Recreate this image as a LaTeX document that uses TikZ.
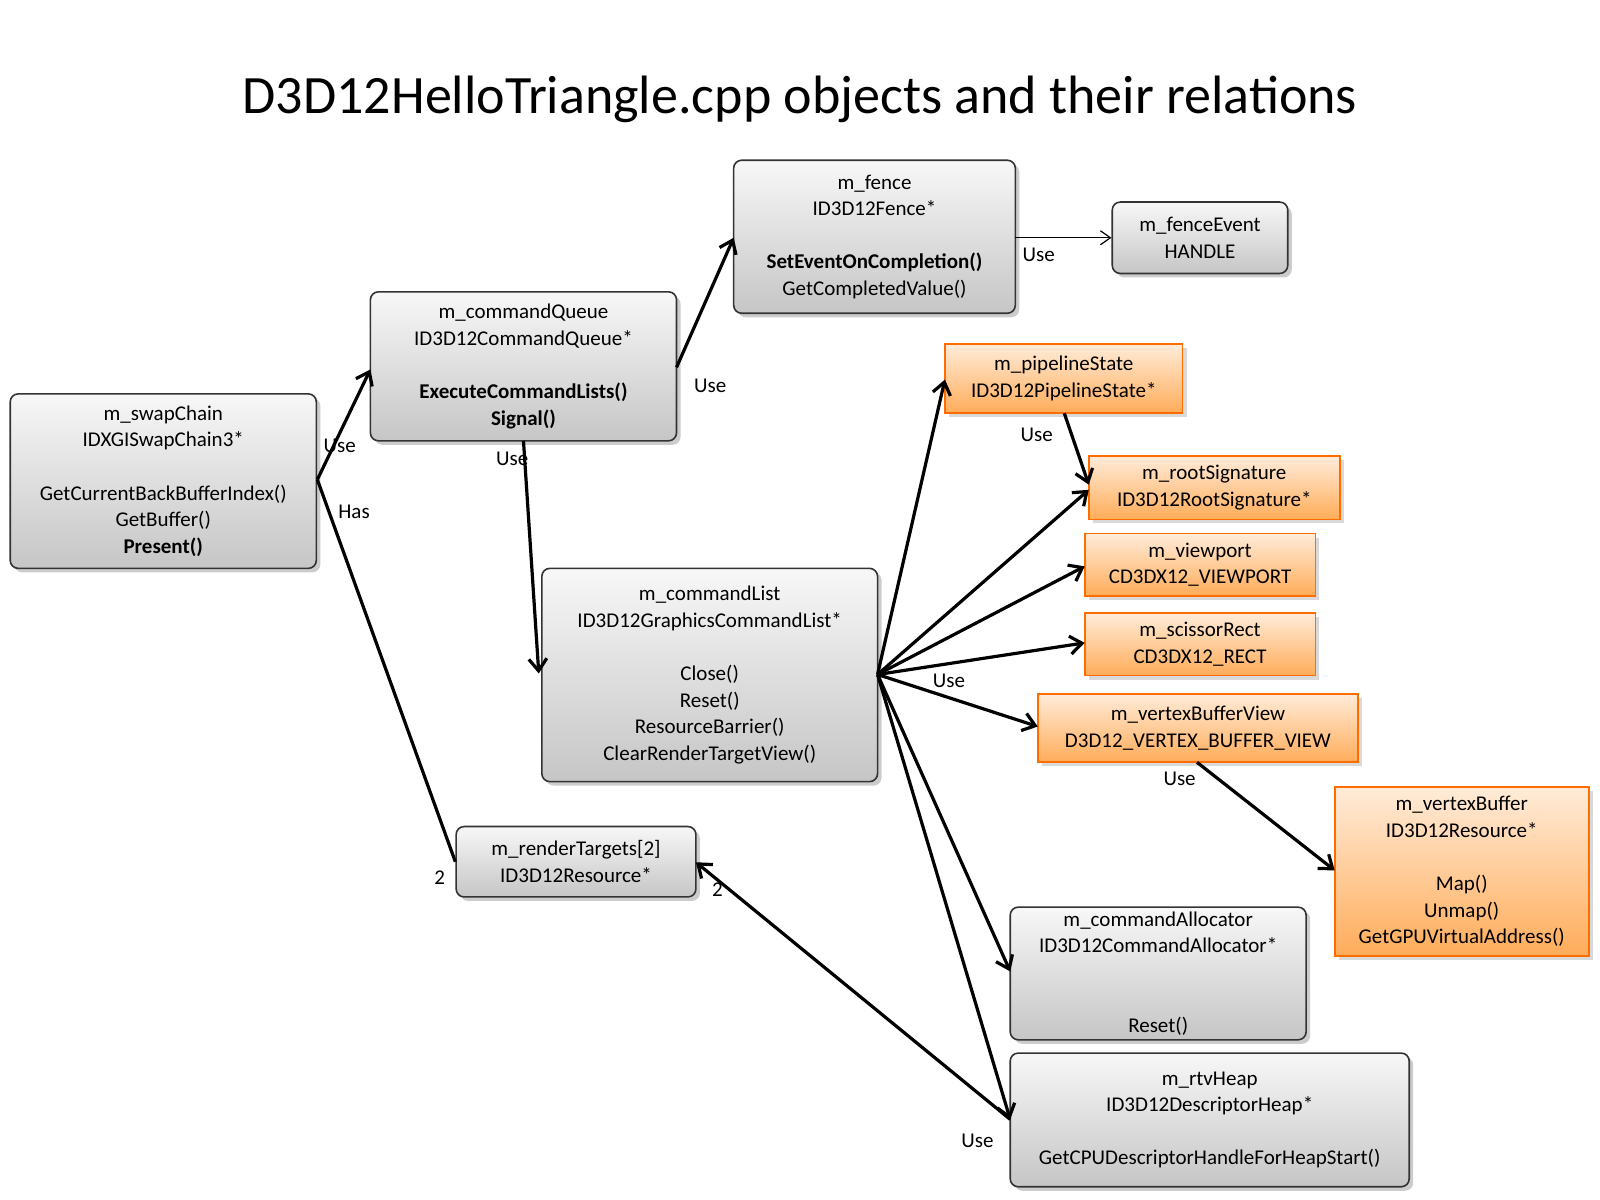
\documentclass[tikz,border=0pt]{standalone}
\usepackage{fontspec}
\setmainfont{Carlito}
\usetikzlibrary{arrows.meta,shadows}
\newcommand{\bx}[7]{\node[#6, minimum width={(#4-#2)*0.51pt}, minimum height={(#5-#3)*0.51pt}] (#1) at ({(#2+#4)/2},{(#3+#5)/2}) {#7};}
\tikzset{
 gbox/.style={draw=black!80, line width=0.8pt, rounded corners=4pt, top color=gray!6, bottom color=gray!45, drop shadow={shadow xshift=2pt,shadow yshift=-2pt,opacity=0.4}, align=center, inner sep=2pt, font=\fontsize{10.5}{13.3}\selectfont},
 obox/.style={draw=orange!85!red, line width=0.8pt, top color=orange!15, bottom color=orange!65, drop shadow={shadow xshift=2pt,shadow yshift=-2pt,opacity=0.3}, align=center, inner sep=2pt, font=\fontsize{10.5}{13.3}\selectfont},
 arr/.style={line width=1.6pt, -{Straight Barb[length=6pt,width=9pt]}},
 lab/.style={font=\fontsize{10.5}{13}\selectfont}
}
\begin{document}
\begin{tikzpicture}[x=0.51pt,y=-0.51pt]
\useasboundingbox (0,0) rectangle (1568,1176);
\node[font=\fontsize{27}{32}\selectfont] (title) at (784,97) {D3D12HelloTriangle.cpp objects and their relations};
\bx{fence}{719}{157}{995}{307}{gbox}{m\_fence\\ID3D12Fence*\\[13.3pt]\textbf{SetEventOnCompletion()}\\GetCompletedValue()}
\bx{fev}{1090}{198}{1262}{268}{gbox}{m\_fenceEvent\\HANDLE}
\bx{cq}{363}{286}{663}{432}{gbox}{m\_commandQueue\\ID3D12CommandQueue*\\[13.3pt]\textbf{ExecuteCommandLists()}\\\textbf{Signal()}}
\bx{sc}{10}{386}{310}{557}{gbox}{m\_swapChain\\IDXGISwapChain3*\\[13.3pt]GetCurrentBackBufferIndex()\\GetBuffer()\\\textbf{Present()}}
\bx{ps}{926}{337}{1159}{405}{obox}{m\_pipelineState\\ID3D12PipelineState*}
\bx{rs}{1067}{447}{1313}{509}{obox}{m\_rootSignature\\ID3D12RootSignature*}
\bx{vp}{1063}{523}{1289}{584}{obox}{m\_viewport\\CD3DX12\_VIEWPORT}
\bx{sr}{1063}{601}{1289}{662}{obox}{m\_scissorRect\\CD3DX12\_RECT}
\bx{vbv}{1017}{680}{1331}{747}{obox}{m\_vertexBufferView\\D3D12\_VERTEX\_BUFFER\_VIEW}
\bx{vb}{1308}{771}{1557}{937}{obox}{m\_vertexBuffer\\ID3D12Resource*\\[13.3pt]Map()\\Unmap()\\GetGPUVirtualAddress()}
\bx{cl}{531}{557}{860}{766}{gbox}{m\_commandList\\ID3D12GraphicsCommandList*\\[13.3pt]Close()\\Reset()\\ResourceBarrier()\\ClearRenderTargetView()}
\bx{rt}{447}{810}{682}{879}{gbox}{m\_renderTargets[2]\\ID3D12Resource*}
\bx{ca}{990}{889}{1280}{1019}{gbox}{m\_commandAllocator\\ID3D12CommandAllocator*\\[13.3pt]\\Reset()}
\bx{rh}{990}{1032}{1381}{1163}{gbox}{m\_rtvHeap\\ID3D12DescriptorHeap*\\[13.3pt]GetCPUDescriptorHandleForHeapStart()}
\coordinate (scp) at (311,470);
\coordinate (hub) at (860,661);
\draw[arr] (scp) -- (363,362);
\draw[line width=1.6pt] (scp) -- (rt.west);
\draw[arr] (663,360) -- (719,233);
\draw[arr] (513,432) -- (528,660);
\draw[-{Straight Barb[length=5pt,width=7pt]}, line width=0.6pt] (995,233) -- (fev.west);
\draw[arr] (hub) -- (926,372);
\draw[arr] (hub) -- (1067,480);
\draw[arr] (hub) -- (1063,555);
\draw[arr] (hub) -- (1063,630);
\draw[arr] (hub) -- (1017,712);
\draw[arr] (hub) -- (990,952);
\draw[arr] (hub) -- (990,1097);
\draw[arr] (1043,405) -- (1067,475);
\draw[arr] (1173,747) -- (1308,853);
\draw[arr] (990,1097) -- (682,845);
\node[lab] (l1) at (333,437) {Use};
\node[lab] (l2) at (347,502) {Has};
\node[lab] (l3) at (431,860) {2};
\node[lab] (l4) at (696,378) {Use};
\node[lab] (l5) at (502,450) {Use};
\node[lab] (l6) at (1018,250) {Use};
\node[lab] (l7) at (930,667) {Use};
\node[lab] (l8) at (1016,426) {Use};
\node[lab] (l9) at (1156,763) {Use};
\node[lab] (l10) at (703,872) {2};
\node[lab] (l11) at (958,1118) {Use};
\end{tikzpicture}
\end{document}
